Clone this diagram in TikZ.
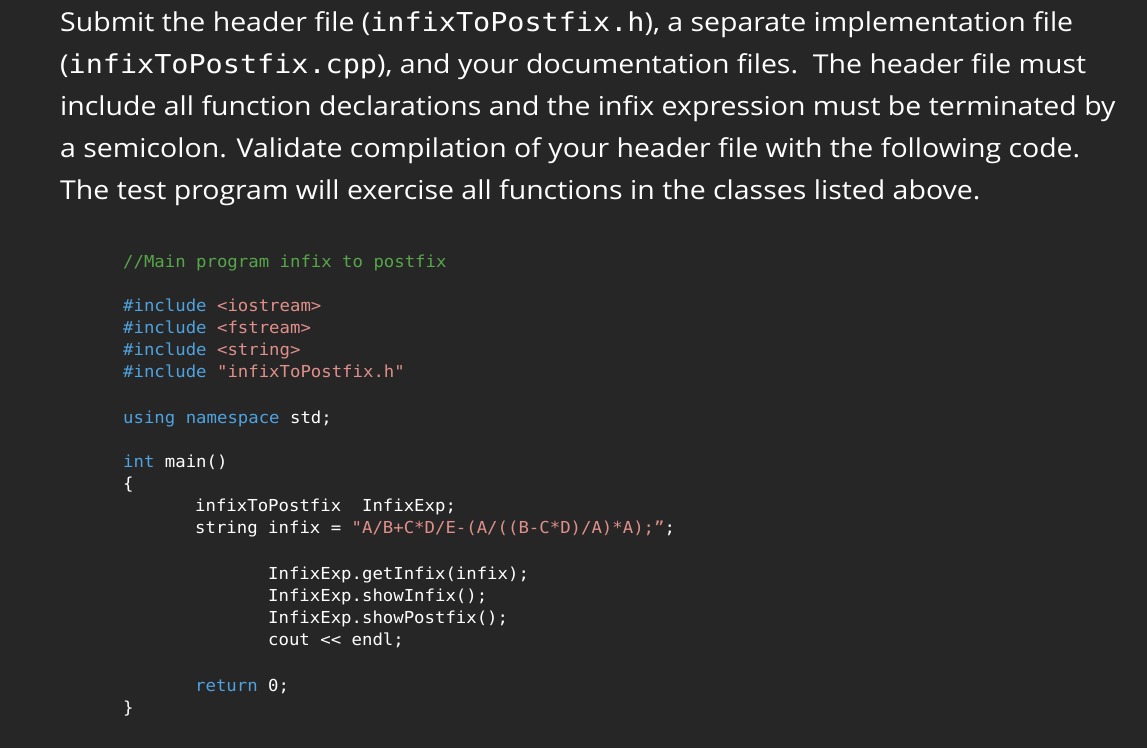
\documentclass[tikz,border=0pt]{standalone}
\usepackage{fontspec}
\setmainfont{Open Sans}
\setmonofont{DejaVu Sans Mono}
\definecolor{bg}{HTML}{262626}
\definecolor{kw}{HTML}{4FA3E0}
\definecolor{cm}{HTML}{57A64A}
\definecolor{st}{HTML}{E0908A}
\newcommand{\widepara}[1]{\scalebox{1.095}[1]{#1}}
\newcommand{\widecode}[1]{\scalebox{1.05}[1]{#1}}
\begin{document}
\begin{tikzpicture}[x=1pt,y=-1pt,
  para/.style={anchor=base west,inner sep=0,text=white,font=\fontsize{26}{26}\selectfont},
  code/.style={anchor=base west,inner sep=0,text=white,font=\fontsize{16.5}{16.5}\ttfamily}]
\fill[bg] (0,0) rectangle (1147,748);
\useasboundingbox (0,0) rectangle (1147,748);
\node[para] (p1) at (60,31) {\widepara{Submit the header file ({\ttfamily infixToPostfix.h}), a separate implementation file}};
\node[para] (p2) at (60,73) {\widepara{({\ttfamily infixToPostfix.cpp}), and your documentation files.\ \ The header file must}};
\node[para] (p3) at (60,115) {\widepara{include all function declarations and the infix expression must be terminated by}};
\node[para] (p4) at (60,157) {\widepara{a semicolon. Validate compilation of your header file with the following code.}};
\node[para] (p5) at (60,199) {\widepara{The test program will exercise all functions in the classes listed above.}};
\node[code,text=cm] (c1) at (123,267) {\widecode{//Main program infix to postfix}};
\node[code] (c2) at (123,311) {\widecode{\textcolor{kw}{\#include} \textcolor{st}{<iostream>}}};
\node[code] (c3) at (123,333) {\widecode{\textcolor{kw}{\#include} \textcolor{st}{<fstream>}}};
\node[code] (c4) at (123,355) {\widecode{\textcolor{kw}{\#include} \textcolor{st}{<string>}}};
\node[code] (c5) at (123,377) {\widecode{\textcolor{kw}{\#include} \textcolor{st}{"infixToPostfix.h"}}};
\node[code] (c6) at (123,423) {\widecode{\textcolor{kw}{using} \textcolor{kw}{namespace} std;}};
\node[code] (c7) at (123,467) {\widecode{\textcolor{kw}{int} main()}};
\node[code] (c8) at (123,489) {\widecode{\{}};
\node[code] (c9) at (195,511) {\widecode{infixToPostfix\ \ InfixExp;}};
\node[code] (c10) at (195,533) {\widecode{string infix = \textcolor{st}{"A/B+C*D/E-(A/((B-C*D)/A)*A);”};}};
\node[code] (c11) at (268,579) {\widecode{InfixExp.getInfix(infix);}};
\node[code] (c12) at (268,601) {\widecode{InfixExp.showInfix();}};
\node[code] (c13) at (268,623) {\widecode{InfixExp.showPostfix();}};
\node[code] (c14) at (268,645) {\widecode{cout << endl;}};
\node[code] (c15) at (195,691) {\widecode{\textcolor{kw}{return} 0;}};
\node[code] (c16) at (123,713) {\widecode{\}}};
\end{tikzpicture}
\end{document}
